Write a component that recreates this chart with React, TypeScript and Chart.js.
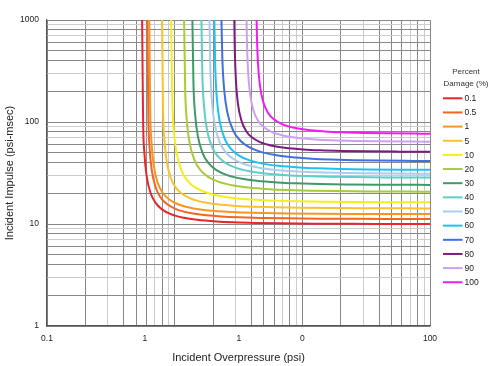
import React, { useEffect, useRef } from 'react';
import { Chart, registerables } from 'chart.js';

Chart.register(...registerables);

const FONT_FAMILY = "'Liberation Sans', Arial, Helvetica, sans-serif";

const DAMAGE_LABELS = ['0.1', '0.5', '1', '5', '10', '20', '30', '40', '50', '60', '70', '80', '90', '100'];
const SERIES_COLORS = [
  '#e8262a', '#f26522', '#f7961f', '#f9c22e', '#f5ee1c', '#a6cc38', '#3d9b6a',
  '#5ccfc6', '#a9cdf0', '#1cc3f0', '#3f6fe0', '#7e1a80', '#cf9ff5', '#f21cf0',
];

// [incident overpressure (psi), incident impulse (psi-msec)]
const CURVE_0_1: [number, number][] = [[0.556, 1000], [0.566, 100], [0.579, 50], [0.602, 30], [0.649, 20], [0.712, 16], [0.791, 14], [0.932, 12.5], [1.184, 11.5], [1.499, 11.0], [2.127, 10.6], [2.914, 10.4], [4.33, 10.25], [6.84, 10.15], [12.35, 10.08], [24.1, 10.04], [47.7, 10.02], [100, 10.01]];
const CURVE_0_5: [number, number][] = [[0.611, 1000], [0.622, 112], [0.636, 56], [0.662, 33.6], [0.714, 22.4], [0.783, 17.92], [0.869, 15.68], [1.025, 14.0], [1.301, 12.88], [1.647, 12.32], [2.338, 11.87], [3.203, 11.65], [4.758, 11.48], [7.52, 11.37], [13.57, 11.29], [26.5, 11.24], [52.5, 11.22], [100, 11.21]];
const CURVE_1: [number, number][] = [[0.633, 1000], [0.644, 125], [0.659, 62.5], [0.686, 37.5], [0.739, 25], [0.811, 20], [0.901, 17.5], [1.062, 15.63], [1.348, 14.38], [1.706, 13.75], [2.423, 13.25], [3.318, 13.0], [4.93, 12.81], [7.79, 12.69], [14.06, 12.6], [27.5, 12.55], [54.4, 12.53], [100, 12.52]];
const CURVE_5: [number, number][] = [[0.797, 1000], [0.81, 142], [0.829, 71], [0.863, 42.6], [0.93, 28.4], [1.02, 22.72], [1.133, 19.88], [1.336, 17.75], [1.696, 16.33], [2.147, 15.62], [3.047, 15.05], [4.174, 14.77], [6.2, 14.56], [9.8, 14.41], [17.69, 14.31], [34.6, 14.26], [68.4, 14.23], [100, 14.22]];
const CURVE_10: [number, number][] = [[0.938, 1000], [0.958, 163], [0.986, 81.5], [1.038, 48.9], [1.141, 32.6], [1.278, 26.08], [1.449, 22.82], [1.758, 20.38], [2.307, 18.75], [2.992, 17.93], [4.364, 17.28], [6.078, 16.95], [9.163, 16.71], [14.65, 16.54], [26.6, 16.43], [52.4, 16.37], [100, 16.33]];
const CURVE_20: [number, number][] = [[1.186, 1000], [1.209, 207], [1.245, 103.5], [1.31, 62.1], [1.44, 41.4], [1.613, 33.12], [1.829, 28.98], [2.218, 25.88], [2.911, 23.81], [3.776, 22.77], [5.507, 21.94], [7.67, 21.53], [11.56, 21.22], [18.49, 21.01], [33.6, 20.87], [66.1, 20.78], [100, 20.75]];
const CURVE_30: [number, number][] = [[1.377, 1000], [1.403, 241], [1.445, 120.5], [1.521, 72.3], [1.671, 48.2], [1.873, 38.56], [2.124, 33.74], [2.576, 30.13], [3.38, 27.72], [4.384, 26.51], [6.394, 25.55], [8.905, 25.06], [13.43, 24.7], [21.47, 24.46], [39.0, 24.29], [76.7, 24.2], [100, 24.18]];
const CURVE_40: [number, number][] = [[1.62, 1000], [1.649, 284], [1.699, 142], [1.787, 85.2], [1.964, 56.8], [2.201, 45.44], [2.496, 39.76], [3.027, 35.5], [3.972, 32.66], [5.152, 31.24], [7.514, 30.1], [10.47, 29.54], [15.78, 29.11], [25.23, 28.83], [45.9, 28.63], [90.2, 28.51], [100, 28.5]];
const CURVE_50: [number, number][] = [[1.873, 1000], [1.905, 310], [1.962, 155], [2.065, 93], [2.269, 62], [2.543, 49.6], [2.883, 43.4], [3.497, 38.75], [4.589, 35.65], [5.952, 34.1], [8.681, 32.86], [12.09, 32.24], [18.23, 31.78], [29.15, 31.47], [53.0, 31.25], [100, 31.1]];
const CURVE_60: [number, number][] = [[2.046, 1000], [2.08, 338], [2.142, 169], [2.253, 101.4], [2.477, 67.6], [2.775, 54.08], [3.147, 47.32], [3.816, 42.25], [5.008, 38.87], [6.496, 37.18], [9.474, 35.83], [13.2, 35.15], [19.89, 34.65], [31.8, 34.31], [57.9, 34.07], [100, 33.98]];
const CURVE_70: [number, number][] = [[2.325, 1000], [2.364, 412], [2.444, 206], [2.588, 123.6], [2.875, 82.4], [3.259, 65.92], [3.738, 57.68], [4.6, 51.5], [6.134, 47.38], [8.05, 45.32], [11.88, 43.67], [16.68, 42.85], [25.3, 42.23], [40.6, 41.82], [74.2, 41.53], [100, 41.4]];
const CURVE_80: [number, number][] = [[2.933, 1000], [2.959, 508], [3.019, 254], [3.128, 152.4], [3.347, 101.6], [3.638, 81.28], [4.001, 71.12], [4.656, 63.5], [5.82, 58.42], [7.275, 55.88], [10.19, 53.85], [13.82, 52.83], [20.37, 52.07], [32.0, 51.56], [57.5, 51.21], [100, 51.0]];
const CURVE_90: [number, number][] = [[3.657, 1000], [3.68, 637], [3.756, 318.5], [3.892, 191.1], [4.163, 127.4], [4.525, 101.9], [4.978, 89.18], [5.792, 79.63], [7.24, 73.26], [9.05, 70.07], [12.67, 67.52], [17.2, 66.25], [25.34, 65.29], [39.8, 64.66], [71.5, 64.21], [100, 64.0]];
const CURVE_100: [number, number][] = [[4.384, 1000], [4.402, 763], [4.492, 381.5], [4.655, 228.9], [4.98, 152.6], [5.413, 122.1], [5.954, 106.8], [6.928, 95.38], [8.66, 87.75], [10.83, 83.93], [15.16, 80.88], [20.57, 79.35], [30.31, 78.21], [47.6, 77.44], [85.5, 76.91], [100, 76.8]];

const CURVES = [CURVE_0_1, CURVE_0_5, CURVE_1, CURVE_5, CURVE_10, CURVE_20, CURVE_30, CURVE_40, CURVE_50, CURVE_60, CURVE_70, CURVE_80, CURVE_90, CURVE_100];

const X_GRID_VALUES = [0.1, 0.2, 0.3, 0.4, 0.5, 0.6, 0.7, 0.8, 0.9, 1, 2, 3, 4, 5, 6, 7, 8, 9, 10, 20, 30, 40, 50, 60, 70, 80, 90, 100];
const X_LABEL_VALUES = [0.1, 0.585, 3.19, 10, 100];
const X_LABEL_TEXTS = ['0.1', '1', '1', '0', '100'];
const Y_GRID_VALUES = [1, 2, 3, 4, 5, 6, 7, 8, 9, 10, 20, 30, 40, 50, 60, 70, 80, 90, 100, 200, 300, 400, 500, 600, 700, 800, 900, 1000];
const Y_LABEL_VALUES = [1, 10, 100, 1000];
const Y_LABEL_TEXTS = ['1', '10', '100', '1000'];
const LIGHT_GRID_VALUES = [0.3, 0.7, 0.9, 3, 7, 9, 30, 70, 90, 300, 700, 900];
const LEGEND_TITLE = ['Percent', 'Damage (%)'];

const GRID_DARK = '#888888';
const GRID_LIGHT = '#cccccc';

const X_TICK_VALUES = Array.from(new Set([...X_GRID_VALUES, ...X_LABEL_VALUES])).sort((a, b) => a - b);

const gridColor = (ctx: any) => {
  const v = ctx.tick ? ctx.tick.value : null;
  if (v === null || (!X_GRID_VALUES.includes(v) && !Y_GRID_VALUES.includes(v))) return 'rgba(0,0,0,0)';
  return LIGHT_GRID_VALUES.includes(v) ? GRID_LIGHT : GRID_DARK;
};

const legendPlugin = {
  id: 'damageLegend',
  afterDraw(chart: any) {
    const { ctx, chartArea } = chart;
    const lineX0 = chartArea.right + 13;
    const lineX1 = lineX0 + 19.5;
    const centerX = chartArea.right + 36;
    ctx.save();
    ctx.font = `8px ${FONT_FAMILY}`;
    ctx.fillStyle = '#333';
    ctx.textAlign = 'center';
    ctx.textBaseline = 'middle';
    LEGEND_TITLE.forEach((t, i) => ctx.fillText(t, centerX, chartArea.top + 51.5 + i * 12));
    ctx.font = `8.5px ${FONT_FAMILY}`;
    chart.data.datasets.forEach((ds: any, i: number) => {
      const y = chartArea.top + 78.3 + i * 14.15;
      ctx.strokeStyle = ds.borderColor;
      ctx.lineWidth = 2;
      ctx.beginPath();
      ctx.moveTo(lineX0, y);
      ctx.lineTo(lineX1, y);
      ctx.stroke();
      ctx.textAlign = 'left';
      ctx.fillStyle = '#222';
      ctx.fillText(ds.label, lineX1 + 2, y + 0.5);
    });
    ctx.restore();
  },
};

export default function App() {
  const ref = useRef<HTMLCanvasElement>(null);

  useEffect(() => {
    if (!ref.current) return;
    const datasets = CURVES.map((curve, i) => ({
      label: DAMAGE_LABELS[i],
      data: curve.map(([x, y]) => ({ x, y })),
      borderColor: SERIES_COLORS[i],
      backgroundColor: SERIES_COLORS[i],
      borderWidth: 2,
      pointRadius: 0,
      cubicInterpolationMode: 'monotone' as const,
      fill: false,
    }));

    const chart = new Chart(ref.current, {
      type: 'line',
      data: { datasets },
      plugins: [legendPlugin],
      options: {
        animation: false,
        responsive: false,
        devicePixelRatio: 1,
        events: [],
        layout: { padding: { top: 20, right: 70, bottom: 0, left: 0 } },
        plugins: {
          legend: { display: false },
          tooltip: { enabled: false },
        },
        scales: {
          x: {
            type: 'logarithmic',
            min: 0.1,
            max: 100,
            afterBuildTicks: (scale: any) => {
              scale.ticks = X_TICK_VALUES.map((v) => ({ value: v }));
            },
            afterFit: (scale: any) => {
              scale.height = 40;
            },
            ticks: {
              autoSkip: false,
              maxRotation: 0,
              minRotation: 0,
              padding: 8,
              color: '#222',
              font: { family: FONT_FAMILY, size: 8.5 },
              callback: (value: any) => {
                const i = X_LABEL_VALUES.indexOf(Number(value));
                return i >= 0 ? X_LABEL_TEXTS[i] : '';
              },
            },
            grid: { color: gridColor, lineWidth: 1, drawTicks: false },
            border: { color: '#555', width: 1.2 },
            title: {
              display: true,
              text: 'Incident Overpressure (psi)',
              color: '#222',
              font: { family: FONT_FAMILY, size: 11 },
              padding: { top: 0, bottom: 1.5 },
            },
          },
          y: {
            type: 'logarithmic',
            min: 1,
            max: 1000,
            afterBuildTicks: (scale: any) => {
              scale.ticks = Y_GRID_VALUES.map((v) => ({ value: v }));
            },
            afterFit: (scale: any) => {
              scale.width = 47;
            },
            ticks: {
              autoSkip: false,
              padding: 8,
              color: '#222',
              font: { family: FONT_FAMILY, size: 8.5 },
              callback: (value: any) => {
                const i = Y_LABEL_VALUES.indexOf(Number(value));
                return i >= 0 ? Y_LABEL_TEXTS[i] : '';
              },
            },
            grid: { color: gridColor, lineWidth: 1, drawTicks: false },
            border: { color: '#555', width: 1.2 },
            title: {
              display: true,
              text: 'Incident Impulse (psi-msec)',
              color: '#222',
              font: { family: FONT_FAMILY, size: 11 },
              padding: { top: 3, bottom: 0 },
            },
          },
        },
      },
    });
    return () => chart.destroy();
  }, []);

  return (
    <div style={{ position: 'fixed', left: 0, top: 0, width: 500, height: 366, background: '#fff' }}>
      <canvas ref={ref} width={500} height={366} style={{ display: 'block', width: 500, height: 366 }} />
    </div>
  );
}
